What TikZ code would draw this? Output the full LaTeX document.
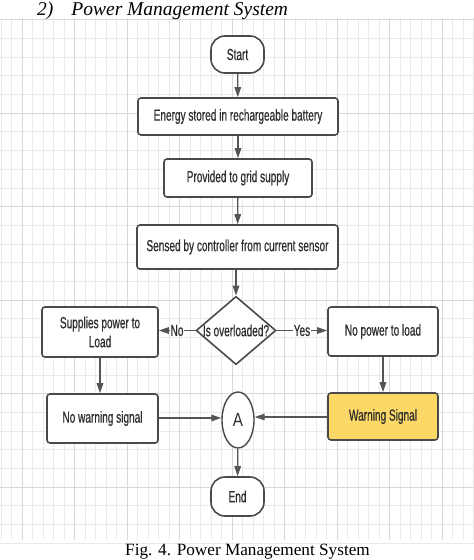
\documentclass[tikz,border=0pt]{standalone}
\usepackage{fontspec}
\setmainfont{Liberation Serif}
\newfontfamily\narrowfont[FakeStretch=0.63,FakeBold=0.6]{Liberation Sans}
\newfontfamily\connfont[FakeStretch=0.8]{Liberation Sans}
\usetikzlibrary{arrows.meta,shapes.geometric}
\definecolor{lineclr}{HTML}{555555}
\definecolor{boxclr}{HTML}{4A4A4A}
\definecolor{txtclr}{HTML}{2E2E2E}
\definecolor{warnfill}{HTML}{FCD867}
\definecolor{gridminor}{HTML}{EAEAEA}
\definecolor{gridmajor}{HTML}{D8D8D8}
\tikzset{
  procbox/.style={draw=boxclr, line width=1.6pt, fill=white, rounded corners=3pt,
    font=\narrowfont\fontsize{16}{19}\selectfont, text=txtclr, align=center, inner sep=0pt},
  termbox/.style={procbox, rounded corners=14pt},
  decbox/.style={draw=boxclr, line width=1.6pt, fill=white, diamond, aspect=1.17,
    font=\narrowfont\fontsize{16}{19}\selectfont, text=txtclr, inner sep=0pt},
  connbox/.style={draw=boxclr, line width=1.4pt, fill=white, ellipse, inner sep=0pt,
    font=\connfont\fontsize{19}{21}\selectfont, text=txtclr},
  flow/.style={draw=lineclr, line width=1.3pt, -{Triangle[length=10pt,width=6.5pt]}},
  edgelbl/.style={font=\narrowfont\fontsize{16}{19}\selectfont, text=txtclr, fill=white, inner sep=1pt}
}
\begin{document}
\begin{tikzpicture}[x=1pt,y=-1pt]
\useasboundingbox (0,0) rectangle (474,560);
% grid
\foreach \k in {-2,...,43} {
  \pgfmathsetmacro{\gx}{22+10.5*\k}
  \draw[gridminor, line width=0.6pt] (\gx,18) -- (\gx,540);
}
\foreach \k in {-5,...,25} {
  \pgfmathsetmacro{\gy}{487-18.7*\k}
  \ifdim \gy pt>17pt \draw[gridminor, line width=0.6pt] (0,\gy) -- (474,\gy); \fi
}
\foreach \k in {-1,...,9} {
  \pgfmathsetmacro{\gx}{22+52.5*\k}
  \draw[gridmajor, line width=0.8pt] (\gx,18) -- (\gx,540);
}
\foreach \k in {0,...,5} {
  \pgfmathsetmacro{\gy}{487-93.5*\k}
  \draw[gridmajor, line width=0.8pt] (0,\gy) -- (474,\gy);
}
% title
\node[anchor=base west, font=\itshape\fontsize{19.5}{22}\selectfont, inner sep=0pt] (title) at (37,15) {2)\hspace{18pt}Power Management System};
% nodes
\node[termbox, minimum width=53pt, minimum height=37pt] (start) at (237.5,54.5) {Start};
\node[procbox, minimum width=200pt, minimum height=37pt] (energy) at (238,116.5) {Energy stored in rechargeable battery};
\node[procbox, minimum width=148pt, minimum height=38pt] (grid) at (238,178) {Provided to grid supply};
\node[procbox, minimum width=201pt, minimum height=44pt] (sensed) at (237.5,247) {Sensed by controller from current sensor};
\node[decbox, minimum width=76pt, minimum height=65pt] (dec) at (236,330.5) {Is overloaded?};
\node[procbox, minimum width=116pt, minimum height=50pt] (supply) at (100,332) {Supplies power to\\Load};
\node[procbox, minimum width=110pt, minimum height=49pt] (nopower) at (383,331.5) {No power to load};
\node[procbox, minimum width=111pt, minimum height=49pt] (nowarn) at (102.5,418.5) {No warning signal};
\node[connbox, minimum width=32pt, minimum height=56pt] (conn) at (238,420) {A};
\node[procbox, fill=warnfill, minimum width=110pt, minimum height=47pt] (warn) at (383,416.5) {Warning Signal};
\node[termbox, minimum width=53pt, minimum height=39pt] (end) at (237.5,496.5) {End};
% connectors
\draw[flow] (start) -- (energy);
\draw[flow] (energy) -- (grid);
\draw[flow] (grid) -- (sensed);
\draw[flow] (sensed.south -| dec.north) -- (dec.north);
\draw[flow] (dec.west) -- node[edgelbl] {No} (supply.east |- dec.west);
\draw[flow] (dec.east) -- node[edgelbl] {Yes} (nopower.west |- dec.east);
\draw[flow] (supply.south -| 100,0) -- (nowarn.north -| 100,0);
\draw[flow] (nopower) -- (warn);
\draw[flow] (nowarn.east |- 0,418) -- (conn.west |- 0,418);
\draw[flow] (warn.west |- 0,417) -- (conn.east |- 0,417);
\draw[flow] (conn) -- (end);
% caption
\node[anchor=base, font=\fontsize{17.2}{20}\selectfont, inner sep=0pt] (caption) at (247.5,555) {Fig. 4. Power Management System};
\end{tikzpicture}
\end{document}
